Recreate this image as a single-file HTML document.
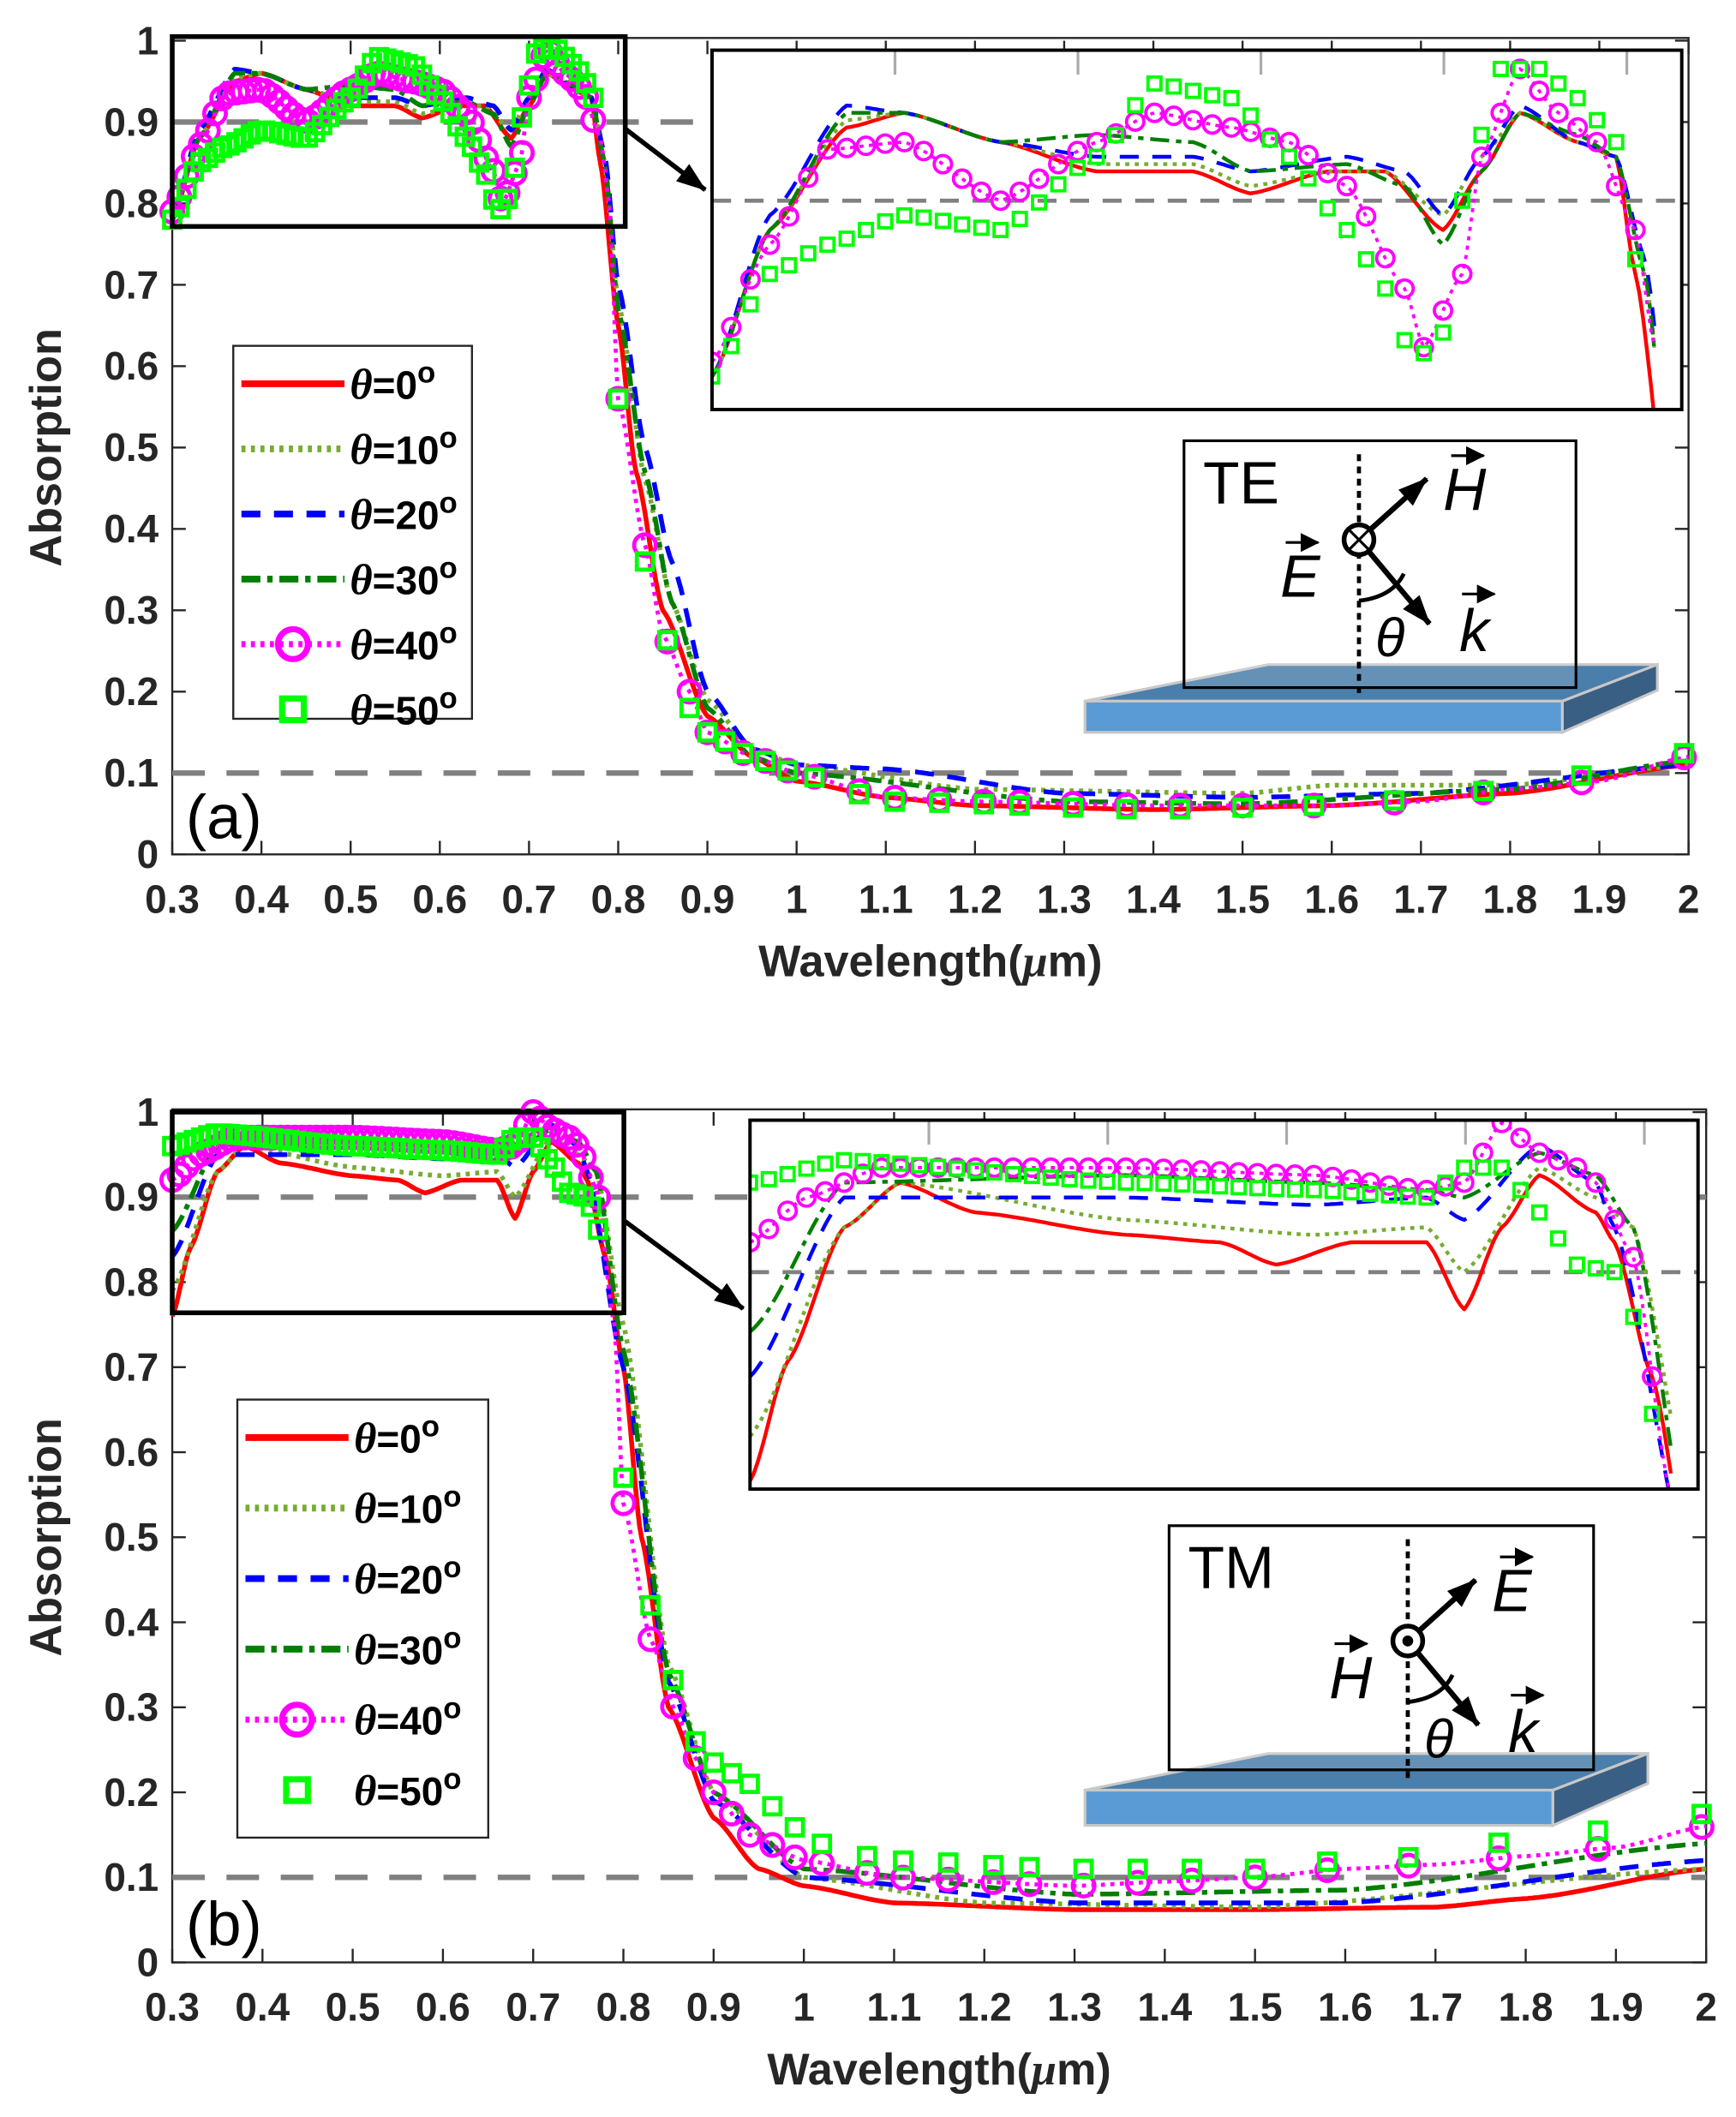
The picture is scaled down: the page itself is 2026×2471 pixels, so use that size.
<!DOCTYPE html>
<html><head><meta charset="utf-8"><style>
html,body{margin:0;padding:0;background:#fff}
svg{display:block}
text{font-family:"Liberation Sans",sans-serif}
</style></head><body>
<svg id="s" width="2026" height="2471" viewBox="0 0 1280 1561" preserveAspectRatio="none" xmlns="http://www.w3.org/2000/svg">
<defs>
<clipPath id="ca"><rect x="525" y="37" width="715" height="265"/></clipPath>
<clipPath id="cb"><rect x="553" y="826" width="699" height="272"/></clipPath>
<marker id="ah" markerWidth="14" markerHeight="14" refX="13" refY="7" orient="auto" markerUnits="userSpaceOnUse"><path d="M0,0 L14,7 L0,14 z" fill="#000"/></marker>
<marker id="ah2" markerWidth="22" markerHeight="16" refX="21" refY="8" orient="auto" markerUnits="userSpaceOnUse"><path d="M0,0 L22,8 L0,16 z" fill="#000"/></marker>
</defs>
<g id="root"></g>
</svg>
<script>
const NS="http://www.w3.org/2000/svg";
const root=document.getElementById('root');
function el(tag,attrs,txt,parent){const e=document.createElementNS(NS,tag);for(const k in attrs)e.setAttribute(k,attrs[k]);if(txt!==undefined&&txt!==null)e.textContent=txt;(parent||root).appendChild(e);return e;}
function interp(pts,x){if(x<=pts[0][0])return pts[0][1];for(let i=1;i<pts.length;i++){if(x<=pts[i][0]){const a=pts[i-1],b=pts[i];const t=(x-a[0])/(b[0]-a[0]);const s=t*t*(3-2*t);const w=0.5;return a[1]+(b[1]-a[1])*(w*t+(1-w)*s);}}return pts[pts.length-1][1];}
const styles=[
 {c:"#ff0000",w:3.5,d:null},
 {c:"#77ac30",w:3.5,d:"3,4"},
 {c:"#0000ff",w:3.5,d:"14,10"},
 {c:"#007f00",w:3.5,d:"14,5,4,5"},
 {c:"#ff00ff",w:3,d:"3,4",m:"o"},
 {c:"#00ff00",w:0,d:null,m:"s"}];
const A=[
[[0.3,0.78],[0.33,0.88],[0.37,0.95],[0.4,0.96],[0.45,0.94],[0.5,0.92],[0.55,0.92],[0.58,0.905],[0.62,0.92],[0.65,0.92],[0.68,0.88],[0.70,0.92],[0.72,0.96],[0.75,0.94],[0.77,0.93],[0.78,0.85],[0.8,0.65],[0.82,0.47],[0.85,0.3],[0.9,0.17],[0.95,0.12],[1.0,0.09],[1.1,0.07],[1.2,0.06],[1.4,0.055],[1.6,0.06],[1.8,0.075],[2.0,0.11]],
[[0.3,0.78],[0.33,0.88],[0.37,0.955],[0.4,0.96],[0.45,0.94],[0.5,0.925],[0.55,0.925],[0.58,0.91],[0.62,0.92],[0.65,0.92],[0.68,0.89],[0.70,0.93],[0.72,0.96],[0.75,0.94],[0.77,0.93],[0.785,0.85],[0.8,0.68],[0.83,0.46],[0.86,0.31],[0.9,0.19],[0.95,0.13],[1.0,0.11],[1.2,0.08],[1.5,0.075],[1.6,0.085],[1.8,0.085],[2.0,0.11]],
[[0.3,0.78],[0.33,0.89],[0.37,0.965],[0.4,0.96],[0.45,0.94],[0.5,0.93],[0.55,0.93],[0.58,0.92],[0.63,0.93],[0.66,0.92],[0.68,0.89],[0.70,0.93],[0.72,0.965],[0.75,0.94],[0.77,0.93],[0.785,0.86],[0.8,0.7],[0.83,0.5],[0.86,0.36],[0.9,0.2],[0.95,0.13],[1.0,0.11],[1.1,0.105],[1.3,0.075],[1.5,0.07],[1.7,0.075],[2.0,0.11]],
[[0.3,0.78],[0.33,0.88],[0.37,0.96],[0.4,0.96],[0.45,0.94],[0.5,0.945],[0.55,0.94],[0.58,0.92],[0.63,0.925],[0.66,0.91],[0.68,0.87],[0.70,0.92],[0.72,0.96],[0.75,0.945],[0.77,0.93],[0.785,0.85],[0.8,0.67],[0.83,0.47],[0.86,0.31],[0.9,0.18],[0.95,0.12],[1.0,0.1],[1.3,0.065],[1.5,0.062],[1.8,0.08],[2.0,0.115]],
[[0.3,0.79],[0.33,0.87],[0.36,0.935],[0.4,0.94],[0.45,0.9],[0.5,0.94],[0.53,0.96],[0.57,0.95],[0.6,0.94],[0.63,0.91],[0.66,0.84],[0.67,0.80],[0.69,0.85],[0.7,0.93],[0.72,0.99],[0.74,0.96],[0.76,0.94],[0.78,0.88],[0.79,0.8],[0.8,0.56],[0.83,0.38],[0.85,0.27],[0.88,0.2],[0.9,0.15],[0.95,0.12],[1.0,0.1],[1.1,0.07],[1.2,0.065],[1.4,0.06],[1.6,0.06],[1.7,0.065],[1.8,0.08],[1.9,0.09],[2.0,0.12]],
[[0.3,0.78],[0.33,0.85],[0.36,0.87],[0.4,0.89],[0.45,0.88],[0.5,0.93],[0.53,0.98],[0.57,0.97],[0.6,0.93],[0.63,0.88],[0.65,0.84],[0.665,0.79],[0.68,0.81],[0.69,0.9],[0.71,0.99],[0.73,0.99],[0.75,0.97],[0.77,0.94],[0.79,0.78],[0.8,0.56],[0.83,0.36],[0.86,0.25],[0.88,0.18],[0.9,0.15],[0.95,0.12],[1.0,0.1],[1.1,0.065],[1.4,0.055],[1.6,0.06],[1.8,0.08],[2.0,0.125]]];
const B=[
[[0.3,0.76],[0.32,0.84],[0.35,0.93],[0.38,0.96],[0.42,0.94],[0.5,0.925],[0.55,0.92],[0.58,0.905],[0.62,0.92],[0.66,0.92],[0.68,0.875],[0.70,0.93],[0.72,0.965],[0.75,0.94],[0.76,0.92],[0.78,0.83],[0.8,0.7],[0.82,0.5],[0.85,0.3],[0.9,0.17],[0.95,0.11],[1.0,0.09],[1.1,0.07],[1.3,0.062],[1.5,0.062],[1.7,0.065],[1.8,0.075],[2.0,0.11]],
[[0.3,0.79],[0.35,0.93],[0.38,0.96],[0.5,0.935],[0.6,0.925],[0.66,0.93],[0.68,0.9],[0.72,0.97],[0.75,0.95],[0.77,0.93],[0.8,0.75],[0.85,0.35],[0.9,0.2],[1.0,0.1],[1.2,0.07],[1.5,0.065],[2.0,0.11]],
[[0.3,0.83],[0.35,0.95],[0.5,0.95],[0.6,0.945],[0.66,0.95],[0.68,0.935],[0.72,0.985],[0.75,0.96],[0.76,0.93],[0.8,0.7],[0.85,0.33],[0.9,0.19],[1.0,0.1],[1.3,0.07],[1.6,0.07],[2.0,0.12]],
[[0.3,0.86],[0.35,0.96],[0.5,0.965],[0.6,0.96],[0.66,0.955],[0.68,0.95],[0.72,0.98],[0.75,0.965],[0.77,0.93],[0.8,0.72],[0.85,0.34],[0.9,0.2],[1.0,0.11],[1.3,0.08],[1.6,0.085],[2.0,0.14]],
[[0.3,0.92],[0.33,0.95],[0.37,0.97],[0.5,0.97],[0.6,0.965],[0.66,0.955],[0.68,0.96],[0.7,1.0],[0.72,0.98],[0.74,0.97],[0.75,0.96],[0.77,0.91],[0.79,0.75],[0.8,0.54],[0.83,0.38],[0.86,0.29],[0.88,0.24],[0.9,0.2],[0.94,0.15],[1.0,0.12],[1.1,0.1],[1.3,0.09],[1.4,0.095],[1.5,0.1],[1.6,0.11],[1.7,0.115],[1.8,0.125],[1.9,0.135],[2.0,0.16]],
[[0.3,0.96],[0.35,0.975],[0.5,0.96],[0.6,0.955],[0.66,0.95],[0.68,0.97],[0.7,0.97],[0.72,0.94],[0.74,0.905],[0.76,0.9],[0.77,0.87],[0.79,0.74],[0.8,0.57],[0.83,0.42],[0.86,0.32],[0.88,0.26],[0.9,0.235],[0.94,0.21],[0.97,0.18],[1.0,0.15],[1.03,0.135],[1.07,0.125],[1.1,0.12],[1.3,0.11],[1.5,0.11],[1.6,0.12],[1.7,0.125],[1.76,0.14],[1.88,0.155],[2.0,0.175]]];
const mk=[];for(let x=0.3;x<0.78;x+=0.008)mk.push(x);
[0.8,0.83,0.855,0.88,0.9,0.92,0.94,0.965,0.99,1.02,1.07,1.11,1.16,1.21,1.25,1.31,1.37,1.43,1.5,1.58,1.67,1.77,1.88,1.995].forEach(v=>mk.push(v));
const mki=[];for(let x=0.3;x<0.8;x+=0.01)mki.push(x);

function panel(P,D,lab){
 const X=v=>P.x0+(v-0.3)/(1.7)*(P.x1-P.x0);
 const Y=v=>P.y0-(v)*(P.y0-P.y1);
 el('rect',{x:P.x0,y:P.y1-2,width:P.x1-P.x0,height:P.y0-P.y1+2,fill:'none',stroke:'#262626','stroke-width':1.5});
 for(let i=0;i<=10;i++){const y=Y(i/10);el('line',{x1:P.x0,y1:y,x2:P.x0+10,y2:y,stroke:'#262626','stroke-width':1.5});el('line',{x1:P.x1,y1:y,x2:P.x1-10,y2:y,stroke:'#262626','stroke-width':1.5});
  el('text',{x:P.x0-10,y:y+10,'text-anchor':'end','font-size':29,'font-weight':'bold',fill:'#262626'},i==0?'0':i==10?'1':(i/10).toFixed(1));}
 for(let i=3;i<=20;i++){const v=i/10,x=X(v);el('line',{x1:x,y1:P.y0,x2:x,y2:P.y0-10,stroke:'#262626','stroke-width':1.5});el('line',{x1:x,y1:P.y1,x2:x,y2:P.y1+10,stroke:'#262626','stroke-width':1.5});
  el('text',{x:x,y:P.y0+43,'text-anchor':'middle','font-size':29,'font-weight':'bold',fill:'#262626'},i==10?'1':i==20?'2':v.toFixed(1));}
 const t=el('text',{x:(P.x0+P.x1)/2,y:P.y0+90,'text-anchor':'middle','font-size':33,'font-weight':'bold',fill:'#262626'});
 el('tspan',{},'Wavelength(',t);el('tspan',{'font-family':'Liberation Serif','font-style':'italic'},'μ',t);el('tspan',{},'m)',t);
 el('text',{x:0,y:0,'text-anchor':'middle','font-size':33,'font-weight':'bold',fill:'#262626',transform:`translate(${P.x0-82},${(P.y0+P.y1)/2}) rotate(-90)`},'Absorption');
 [0.1,0.9].forEach(v=>el('line',{x1:P.x0,y1:Y(v),x2:P.x1,y2:Y(v),stroke:'#808080','stroke-width':4,'stroke-dasharray':'24,16'}));
 drawSeries(D,X,Y,0.3,2.0,1,null,mk);
 el('text',{x:P.x0+10,y:Y(0.02),'font-size':46,'font-family':'Liberation Serif',fill:'#000'},lab);
}
function drawSeries(D,X,Y,lo,hi,sc,g,M){
 D.forEach((pts,k)=>{const s=styles[k];
  if(s.w>0){let d='';for(let x=lo;x<=hi+1e-9;x+=0.002){d+=(d?'L':'M')+X(x).toFixed(1)+','+Y(interp(pts,x)).toFixed(1);}
   const a={d:d,fill:'none',stroke:s.c,'stroke-width':s.w*sc,'stroke-linejoin':'round'};if(s.d)a['stroke-dasharray']=s.d;el('path',a,null,g);}
  if(s.m){M.forEach(x=>{if(x<lo||x>hi)return;const px=X(x),py=Y(interp(pts,x));
   if(s.m=='o')el('circle',{cx:px,cy:py,r:8*sc,fill:'none',stroke:s.c,'stroke-width':3*sc},null,g);
   else el('rect',{x:px-6*sc,y:py-6*sc,width:12*sc,height:12*sc,fill:'none',stroke:s.c,'stroke-width':3*sc},null,g);});}
 });
}
function inset(R,D,clip,y09,per){
 el('rect',{x:R.x,y:R.y,width:R.w,height:R.h,fill:'#fff',stroke:'none'});
 const g=el('g',{'clip-path':`url(#${clip})`});
 for(let i=1;i<6;i++)el('line',{x1:R.x+R.w*i/5.3,y1:R.y,x2:R.x+R.w*i/5.3,y2:R.y+18,stroke:'#aaa','stroke-width':2},null,g);
 el('line',{x1:R.x,y1:y09,x2:R.x+R.w,y2:y09,stroke:'#808080','stroke-width':3,'stroke-dasharray':'14,10'},null,g);
 const X=v=>R.x+(v-0.3)/(0.49)*(R.w-20);
 const Y=v=>y09-(v-0.9)*per*10;
 drawSeries(D,X,Y,0.3,0.79,0.8,g,mki);
 el('rect',{x:R.x,y:R.y,width:R.w,height:R.h,fill:'none',stroke:'#000','stroke-width':2.5});
}
function legend(L,lh){
 el('rect',{x:L.x,y:L.y,width:L.w,height:L.h,fill:'#fff',stroke:'#262626','stroke-width':1.5});
 const names=['0','10','20','30','40','50'];
 names.forEach((n,k)=>{const s=styles[k];const y=L.y+28+k*lh;
  if(s.w>0){const a={x1:L.x+6,y1:y,x2:L.x+82,y2:y,stroke:s.c,'stroke-width':s.w+1.5};if(s.d)a['stroke-dasharray']=s.d;el('line',a);}
  if(s.m=='o')el('circle',{cx:L.x+44,cy:y,r:11,fill:'none',stroke:s.c,'stroke-width':4.5});
  if(s.m=='s')el('rect',{x:L.x+36,y:y-8,width:16,height:16,fill:'none',stroke:s.c,'stroke-width':4.5});
  const t=el('text',{x:L.x+86,y:y+11,'font-size':29,'font-weight':'bold',fill:'#000'});
  el('tspan',{'font-family':'Liberation Serif','font-style':'italic','font-size':32},'θ',t);
  el('tspan',{},'='+n,t);el('tspan',{dy:-12,'font-size':22},'o',t);
 });
}
function diagram(B,S,mode){
 el('polygon',{points:`${S.x0},${S.yt} ${S.x0+135},${S.yt-27} ${S.x1+70},${S.yt-27} ${S.x1},${S.yt}`,fill:'#4a7eab',stroke:'#c8c8c8','stroke-width':2});
 el('rect',{x:S.x0,y:S.yt,width:S.x1-S.x0,height:S.h,fill:'#5b9bd5',stroke:'#c8c8c8','stroke-width':2});
 el('polygon',{points:`${S.x1},${S.yt} ${S.x1+70},${S.yt-27} ${S.x1+70},${S.yt-27+S.h-4} ${S.x1},${S.yt+S.h}`,fill:'#3a5f84',stroke:'#c8c8c8','stroke-width':2});
 el('rect',{x:B.x,y:B.y,width:B.w,height:B.h,fill:'rgba(255,255,255,0.15)',stroke:'#000','stroke-width':2});
 const cx=B.cx,cy=B.cy;
 el('line',{x1:cx,y1:B.y+10,x2:cx,y2:B.y+B.h+8,stroke:'#000','stroke-width':3,'stroke-dasharray':'5,4'});
 el('line',{x1:cx,y1:cy,x2:cx+50,y2:cy-45,stroke:'#000','stroke-width':4,'marker-end':'url(#ah2)'});
 el('line',{x1:cx,y1:cy,x2:cx+52,y2:cy+62,stroke:'#000','stroke-width':4,'marker-end':'url(#ah2)'});
 el('path',{d:`M${cx},${cy+45} Q${cx+25},${cy+42} ${cx+33},${cy+25}`,fill:'none',stroke:'#000','stroke-width':3});
 el('circle',{cx:cx,cy:cy,r:11,fill:'#fff',stroke:'#000','stroke-width':3.5});
 if(mode=='TE'){el('line',{x1:cx-7,y1:cy-7,x2:cx+7,y2:cy+7,stroke:'#000','stroke-width':2});el('line',{x1:cx+7,y1:cy-7,x2:cx-7,y2:cy+7,stroke:'#000','stroke-width':2});}
 else el('circle',{cx:cx,cy:cy,r:4,fill:'#000'});
 const ser={'font-family':'Liberation Serif','font-size':44,fill:'#000'};
 el('text',Object.assign({x:B.x+14,y:B.y+46},ser),mode);
 const it=Object.assign({'font-style':'italic'},ser);
 const up=mode=='TE'?'H':'E',lf=mode=='TE'?'E':'H';
 el('text',Object.assign({},it,{x:cx+62,y:cy-22}),up);el('line',{x1:cx+68,y1:cy-62,x2:cx+92,y2:cy-62,stroke:'#000','stroke-width':2,'marker-end':'url(#ah)'});
 el('text',Object.assign({},it,{x:cx-58,y:cy+42}),lf);el('line',{x1:cx-54,y1:cy+2,x2:cx-30,y2:cy+2,stroke:'#000','stroke-width':2,'marker-end':'url(#ah)'});
 el('text',Object.assign({},it,{x:cx+74,y:cy+82}),'k');el('line',{x1:cx+76,y1:cy+40,x2:cx+100,y2:cy+40,stroke:'#000','stroke-width':2,'marker-end':'url(#ah)'});
 el('text',Object.assign({},it,{x:cx+12,y:cy+86,'font-size':40}),'θ');
}
panel({x0:127,x1:1245,y1:30,y0:630},A,'(a)');
inset({x:525,y:37,w:715,h:265},A,'ca',148,108);
el('rect',{x:127,y:27,width:334,height:140,fill:'none',stroke:'#000','stroke-width':3.5});
el('line',{x1:461,y1:95,x2:520,y2:140,stroke:'#000','stroke-width':3.5,'marker-end':'url(#ah2)'});
legend({x:172,y:255,w:176,h:275},48);
diagram({x:873,y:325,w:289,h:182,cx:1002,cy:398},{x0:800,x1:1152,yt:517,h:23},'TE');

panel({x0:127,x1:1258,y1:820,y0:1447},B,'(b)');
inset({x:553,y:826,w:699,h:272},B,'cb',938,110);
el('rect',{x:127,y:820,width:333,height:148,fill:'none',stroke:'#000','stroke-width':3.5});
el('line',{x1:460,y1:900,x2:548,y2:965,stroke:'#000','stroke-width':3.5,'marker-end':'url(#ah2)'});
legend({x:175,y:1032,w:185,h:323},52);
diagram({x:862,y:1125,w:313,h:180,cx:1038,cy:1210},{x0:800,x1:1145,yt:1320,h:26},'TM');
</script>
</body></html>
